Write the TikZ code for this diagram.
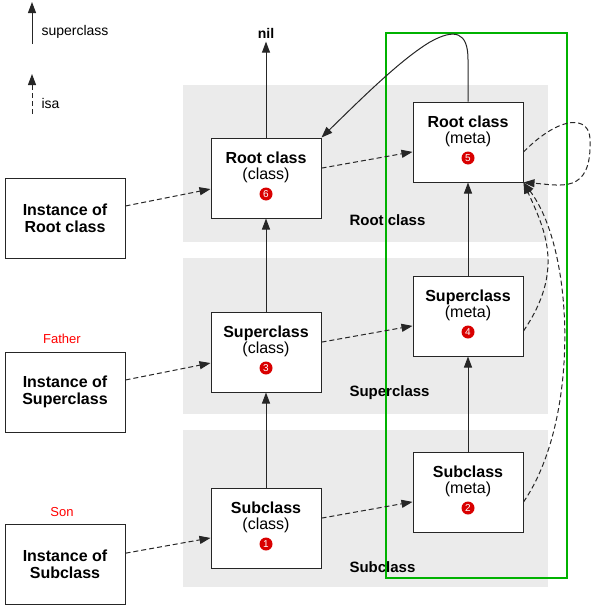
\documentclass[tikz,border=0pt]{standalone}
\usepackage{fontspec}
\setmainfont{Liberation Sans}
\usetikzlibrary{arrows.meta}
\begin{document}
\begin{tikzpicture}[x=1pt,y=-1pt,
  box/.style={draw=black!85,line width=1pt,fill=white,minimum width=110pt,minimum height=80pt,align=center,font=\fontsize{16}{17}\selectfont\bfseries},
  ibox/.style={box,minimum width=120pt},
  sup/.style={-{Triangle[length=11pt,width=8pt]},line width=1pt,black!85},
  isa/.style={-{Triangle[length=11pt,width=8pt]},line width=1pt,black!85,dash pattern=on 5pt off 3pt},
  num/.style={circle,fill=red!85!black,text=white,inner sep=0pt,minimum size=13pt,font=\fontsize{10}{10}\selectfont},
  band/.style={fill=black!8,draw=none},
  blab/.style={font=\fontsize{15}{16}\selectfont\bfseries,anchor=west}]
\useasboundingbox (0,0) rectangle (600,605);
\fill[band] (183,85) rectangle (548,242);
\fill[band] (183,258) rectangle (548,414);
\fill[band] (183,430) rectangle (548,587);
\node[blab] (lr) at (346,220) {Root class};
\node[blab] (ls) at (346,393) {Superclass};
\node[blab] (lb) at (346,567) {Subclass};
\draw[green!70!black,line width=2pt] (386,33) rectangle (567,578);
% legend
\coordinate (l1a) at (32,44); \coordinate (l1b) at (32,2);
\draw[sup] (l1a) -- (l1b);
\node[anchor=west,font=\fontsize{14}{15}\selectfont] (lsup) at (38,32) {superclass};
\coordinate (l2a) at (32,114); \coordinate (l2b) at (32,74);
\draw[isa] (l2a) -- (l2b);
\node[anchor=west,font=\fontsize{14}{15}\selectfont] (lisa) at (38,103) {isa};
% nodes
\node[ibox] (ir) at (65,218) {Instance of\\Root class};
\node[ibox] (is) at (65,392) {Instance of\\Superclass};
\node[ibox] (ib) at (65,564) {Instance of\\Subclass};
\node[text=red,font=\fontsize{13}{15}\selectfont] (fa) at (62,339) {Father};
\node[text=red,font=\fontsize{13}{15}\selectfont] (so) at (62,512) {Son};
\newcommand{\cbox}[5]{\node[box] (#1) at (#2) {#3\\[-1pt]{\mdseries(#4)}\\[8pt]};
  \node[num] (#1n) at ([yshift=-16pt]#1.center) {#5};}
\cbox{rc}{266,178}{Root class}{class}{6}
\cbox{sc}{266,352}{Superclass}{class}{3}
\cbox{bc}{266,528}{Subclass}{class}{1}
\cbox{rm}{468,142}{Root class}{meta}{5}
\cbox{sm}{468,316}{Superclass}{meta}{4}
\cbox{bm}{468,492}{Subclass}{meta}{2}
\node[font=\fontsize{14}{15}\selectfont\bfseries] (nil) at (266,33) {nil};
% superclass arrows
\draw[sup] (rc) -- (nil);
\draw[sup] (bc) -- (sc);
\draw[sup] (sc) -- (rc);
\draw[sup] (bm) -- (sm);
\draw[sup] (sm) -- (rm);
\draw[sup] (rm.north) -- ++(0,-42) .. controls (468,32) and (455,28) .. (430,42) .. controls (400,60) and (360,100) .. (rc.north east);
% isa arrows
\draw[isa] ([yshift=-10pt]rm.east) .. controls (560,115) and (590,115) .. (590,140) .. controls (592,195) and (560,185) .. (rm.south east);
\draw[isa] (ir) -- (rc);
\draw[isa] (is) -- (sc);
\draw[isa] (ib) -- (bc);
\draw[isa] (rc) -- (rm);
\draw[isa] (sc) -- (sm);
\draw[isa] (bc) -- (bm);
\draw[isa] ([yshift=-15pt]sm.east) .. controls (565,270) and (545,230) .. (rm.south east);
\draw[isa] ([yshift=-10pt]bm.east) .. controls (580,420) and (575,250) .. (rm.south east);
\end{tikzpicture}
\end{document}
